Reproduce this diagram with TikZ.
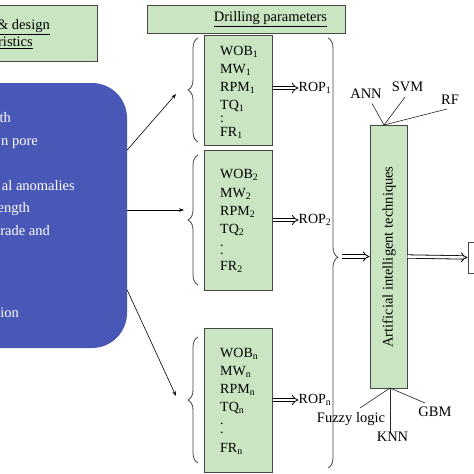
\documentclass[tikz,border=0pt]{standalone}
\usepackage{fontspec}
\setmainfont{Liberation Serif}
\usetikzlibrary{arrows.meta,decorations.pathreplacing,calc}
\definecolor{gfill}{RGB}{201,229,193}
\definecolor{bfill}{RGB}{73,87,182}
\definecolor{edgec}{RGB}{70,70,70}
\begin{document}
\begin{tikzpicture}[x=1pt,y=-1pt,
  gbox/.style={draw=edgec, line width=1pt, fill=gfill, inner sep=0pt},
  txt/.style={inner sep=0pt, font=\fontsize{14.5}{17}\selectfont},
  btxt/.style={txt, anchor=base west, font=\fontsize{14}{16}\selectfont},
  wtxt/.style={txt, anchor=base east, text=white},
  arr/.style={draw=black, line width=0.6pt, -{Stealth[length=5pt,width=3.5pt]}},
  dbl/.style={draw=black, double=white, double distance=2.6pt, line width=0.8pt, -{Implies}},
  brc/.style={draw=edgec, line width=0.8pt, decorate, decoration={brace, amplitude=10pt, aspect=#1}},
  brc/.default=0.5,
  ray/.style={draw=black!85, line width=0.6pt}]
\useasboundingbox (0,0) rectangle (474,474);
\clip (0,0) rectangle (474,474);
\fill[white] (0,0) rectangle (474,474);

% top-left box
\node[gbox, minimum width=137pt, minimum height=56pt] (dc) at (28.5,33) {};
\node[txt, anchor=base east] (dc1) at (50,29.5) {\underline{\& design}};
\node[txt, anchor=base east] (dc2) at (33,46.5) {\underline{ristics}};

% blue box
\node[fill=bfill, rounded corners=35pt, minimum width=187pt, minimum height=265pt, inner sep=0pt] (blue) at (33.5,215.5) {};
\node[wtxt] (b1) at (11,122) {th};
\node[wtxt] (b2) at (38,145) {n pore};
\node[wtxt] (b3) at (75,190.5) {al anomalies};
\node[wtxt] (b4) at (30,212) {ength};
\node[wtxt] (b5) at (50,235) {rade and};
\node[wtxt] (b6) at (19,317.5) {ion};

% header
\node[gbox, minimum width=198pt, minimum height=28pt] (dp) at (246,19) {};
\node[txt] (dpt) at (270.5,19) {\underline{Drilling parameters}};

% parameter boxes
\node[gbox, minimum width=68pt, minimum height=110pt] (p1) at (238,90) {};
\node[gbox, minimum width=68pt, minimum height=140pt] (p2) at (238,220) {};
\node[gbox, minimum width=68pt, minimum height=144pt] (pn) at (238,400) {};

\node[btxt] (p1a) at (220,55) {WOB\textsubscript{1}};
\node[btxt] (p1b) at (220,73) {MW\textsubscript{1}};
\node[btxt] (p1c) at (220,91) {RPM\textsubscript{1}};
\node[btxt] (p1d) at (220,109) {TQ\textsubscript{1}};
\node[btxt] (p1e) at (220,122) {:};
\node[btxt] (p1f) at (220,136) {FR\textsubscript{1}};

\node[btxt] (p2a) at (220,178) {WOB\textsubscript{2}};
\node[btxt] (p2b) at (220,197) {MW\textsubscript{2}};
\node[btxt] (p2c) at (220,215) {RPM\textsubscript{2}};
\node[btxt] (p2d) at (220,233) {TQ\textsubscript{2}};
\node[btxt] (p2e) at (220,246) {.};
\node[btxt] (p2f) at (220,254) {.};
\node[btxt] (p2g) at (220,270) {FR\textsubscript{2}};

\node[btxt] (pna) at (220,357) {WOB\textsubscript{n}};
\node[btxt] (pnb) at (220,375) {MW\textsubscript{n}};
\node[btxt] (pnc) at (220,393) {RPM\textsubscript{n}};
\node[btxt] (pnd) at (220,411) {TQ\textsubscript{n}};
\node[btxt] (pne) at (220,424.5) {.};
\node[btxt] (pnf) at (220,433) {.};
\node[btxt] (png) at (220,452) {FR\textsubscript{n}};

% ROP labels
\node[txt, anchor=west, font=\fontsize{14}{16}\selectfont] (r1) at (298.5,88) {ROP\textsubscript{1}};
\node[txt, anchor=west, font=\fontsize{14}{16}\selectfont] (r2) at (298.5,220) {ROP\textsubscript{2}};
\node[txt, anchor=west, font=\fontsize{14}{16}\selectfont] (rn) at (298.5,400) {ROP\textsubscript{n}};
\draw[dbl] (p1.east |- r1.west) -- (r1.west);
\draw[dbl] (p2.east |- r2.west) -- (r2.west);
\draw[dbl] (pn.east |- rn.west) -- (rn.west);

% braces
\draw[brc] (198,142) -- (198,38);
\draw[brc] (198,285) -- (198,155);
\draw[brc] (198,463) -- (198,337);
\draw[brc=0.51] (328,38) -- (328,468);

% arrows from blue box
\coordinate (t1) at (176,94);
\coordinate (t2) at (184,210);
\coordinate (tn) at (176,396);
\draw[arr] ($(blue.east)+(0,-65.5)$) -- (t1);
\draw[arr] ($(blue.east)+(0,-5.5)$) -- (t2);
\draw[arr] ($(blue.east)+(0,74.5)$) -- (tn);

% AI box
\node[gbox, minimum width=37pt, minimum height=263pt] (ai) at (388.5,256.5) {};
\node[txt, rotate=90] (ait) at (389,257) {Artificial intelligent techniques};

\coordinate (big) at (342,256.5);
\draw[dbl] (big) -- (ai.west);

% output box
\node[draw=edgec, line width=1pt, fill=white, minimum width=40pt, minimum height=31pt, inner sep=0pt] (out) at (488,257.5) {};
\draw[dbl] (ai.east) -- (out.west);

% technique labels
\coordinate (aitop) at (384,125);
\coordinate (aibot) at (390,388);
\node[txt] (ann) at (366,93.5) {ANN};
\node[txt] (svm) at (407.5,87) {SVM};
\node[txt] (rf) at (450,100) {RF};
\node[txt] (fuz) at (351,419) {Fuzzy logic};
\node[txt] (knn) at (392.5,437) {KNN};
\node[txt] (gbm) at (435,412) {GBM};
\coordinate (e1) at (372,103.5);
\coordinate (e2) at (405,97);
\coordinate (e3) at (447,109);
\coordinate (e4) at (360,408);
\coordinate (e5) at (390,432);
\coordinate (e6) at (425,403);
\draw[ray] (aitop) -- (e1);
\draw[ray] (aitop) -- (e2);
\draw[ray] (aitop) -- (e3);
\draw[ray] (aibot) -- (e4);
\draw[ray] (aibot) -- (e5);
\draw[ray] (aibot) -- (e6);
\end{tikzpicture}
\end{document}
